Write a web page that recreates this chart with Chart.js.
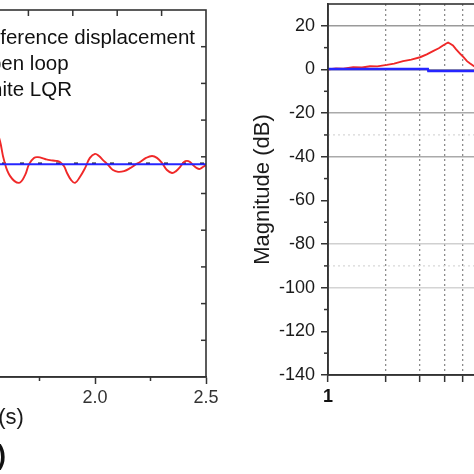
<!DOCTYPE html>
<html>
<head>
<meta charset="utf-8">
<script src="https://cdn.jsdelivr.net/npm/chart.js@4.4.0/dist/chart.umd.min.js"></script>
<style>
  html, body { margin: 0; padding: 0; background: #fff; }
  body { width: 474px; height: 474px; overflow: hidden; position: relative; }
  #timeBox { position: absolute; left: -320px; top: 0; width: 560px; height: 474px; }
  #bodeBox { position: absolute; left: 240px; top: 0; width: 320px; height: 474px; }
  #panel { position: absolute; left: -100px; top: 442px; width: 106px; text-align: right;
           font: bold 27px 'Liberation Sans', Arial, sans-serif; line-height: 27px; color: #111; }
</style>
</head>
<body>
<div id="timeBox"><canvas id="timeChart"></canvas></div>
<div id="bodeBox"><canvas id="bodeChart"></canvas></div>
<div id="panel">(a)</div>
<script>
// left panel: displacement vs time
var timeAxis = [1.545, 1.572, 1.590, 1.617, 1.658, 1.685, 1.703, 1.725, 1.743, 1.775,
                1.797, 1.824, 1.842, 1.860, 1.874, 1.892, 1.910, 1.932, 1.955, 1.977,
                2.000, 2.018, 2.036, 2.059, 2.081, 2.104, 2.131, 2.158, 2.180, 2.203,
                2.230, 2.257, 2.279, 2.302, 2.324, 2.347, 2.365, 2.383, 2.401, 2.414,
                2.428, 2.441, 2.459, 2.473, 2.486, 2.500];
var openLoop = [1.95, 1.43, 0.91, 0.48, 0.29, 0.50, 0.80, 0.97, 0.99, 0.94,
                0.91, 0.89, 0.86, 0.75, 0.56, 0.37, 0.29, 0.45, 0.69, 0.97,
                1.08, 1.02, 0.91, 0.78, 0.64, 0.59, 0.61, 0.69, 0.78, 0.86,
                0.97, 1.02, 0.97, 0.83, 0.64, 0.56, 0.61, 0.72, 0.86, 0.89,
                0.86, 0.78, 0.69, 0.67, 0.72, 0.78];
var refTime = [1.5, 2.5];
var refDisp = [0.81, 0.81];
var lqrDisp = [0.8, 0.8];
var timeMinor = [0.75, 1.25, 1.75, 2.25];
var timeTop = [0.7, 0.9, 1.1, 1.3, 1.5, 1.7, 1.9, 2.1, 2.3];
var dispTicks = [-4, -3, -2, -1, 0, 1, 2, 3, 4];

// right panel: bode magnitude
var freq = [1, 1.1, 1.2, 1.35, 1.5, 1.65, 1.8, 2.02, 2.2, 2.45,
            2.7, 3.0, 3.25, 3.5, 3.75, 3.94, 4.1, 4.19, 4.3, 4.44,
            4.6, 4.83, 5.05, 5.25, 5.45, 5.64, 6.0, 7.0, 8.0, 10];
var openDb = [0, 0.5, 0.4, 1.0, 0.9, 1.5, 1.4, 2.1, 2.7, 3.8,
              4.5, 5.6, 6.9, 8.4, 9.7, 11.0, 11.9, 12.3, 11.8, 11.0,
              9.3, 7.3, 5.5, 3.8, 2.7, 1.8, 0.2, -3.0, -6.0, -10.0];
var lqrFreq = [1, 3.29, 3.31, 10];
var lqrDb = [0.2, 0.2, -0.7, -0.7];
var freqTicks = [1, 2, 3, 4, 5, 6, 7, 8, 9, 10];
var dbTicks = [-140, -120, -100, -80, -60, -40, -20, 0, 20];
var dbMinor = [-130, -110, -90, -70, -50, -30, -10, 10];
var dbDotted = [-30, -90];

var FONT = "'Liberation Sans', Arial, sans-serif";
Chart.defaults.font.family = FONT;
Chart.defaults.color = '#222';

function pairs(xs, ys) {
  return xs.map(function(x, i) { return {x: x, y: ys[i]}; });
}

// keep the layout padding exact (no extra room for edge labels)
function noPadX(h) {
  return function(s) { s.height = h; s.paddingLeft = 0; s.paddingRight = 0; };
}
function noPadY(w) {
  return function(s) { s.width = w; s.paddingTop = 0; s.paddingBottom = 0; };
}

// extra tick marks, dotted lines and the box around the plot
var framePlugin = {
  id: 'frame',
  beforeDatasetsDraw: function(chart, args, opts) { drawMarks(chart, opts, true); },
  afterDraw: function(chart, args, opts) {
    drawMarks(chart, opts, false);
    var a = chart.chartArea, ctx = chart.ctx;
    ctx.save();
    ctx.strokeStyle = opts.color;
    ctx.lineWidth = opts.width;
    ctx.strokeRect(a.left, a.top, a.right - a.left, a.bottom - a.top);
    ctx.restore();
  }
};

function drawMarks(chart, opts, under) {
  var ctx = chart.ctx, a = chart.chartArea;
  ctx.save();
  (opts.marks || []).forEach(function(m) {
    if (!!m.under !== under) return;
    var sc = chart.scales[m.scale];
    ctx.strokeStyle = m.color;
    ctx.lineWidth = m.width;
    ctx.setLineDash(m.dash || []);
    m.values.forEach(function(v) {
      var p = sc.getPixelForValue(v);
      ctx.beginPath();
      if (m.side === 'top') { ctx.moveTo(p, a.top); ctx.lineTo(p, a.top + m.len); }
      else if (m.side === 'bottom') { ctx.moveTo(p, a.bottom); ctx.lineTo(p, a.bottom + m.len); }
      else if (m.side === 'right') { ctx.moveTo(a.right, p); ctx.lineTo(a.right - m.len, p); }
      else if (m.side === 'left') { ctx.moveTo(a.left, p); ctx.lineTo(a.left - m.len, p); }
      else { ctx.moveTo(a.left, p); ctx.lineTo(a.right, p); }
      ctx.stroke();
    });
  });
  ctx.restore();
}

// legend written inside the plot area
var insideLegend = {
  id: 'insideLegend',
  afterDraw: function(chart, args, opts) {
    var ctx = chart.ctx;
    ctx.save();
    ctx.font = opts.font;
    ctx.fillStyle = opts.color;
    ctx.textBaseline = 'alphabetic';
    chart.data.datasets.forEach(function(ds, i) {
      var y = opts.y + i * opts.gap;
      ctx.strokeStyle = ds.borderColor;
      ctx.lineWidth = ds.borderWidth;
      ctx.setLineDash(ds.borderDash || []);
      ctx.beginPath();
      ctx.moveTo(opts.x - 60, y - 7);
      ctx.lineTo(opts.x - 12, y - 7);
      ctx.stroke();
      ctx.setLineDash([]);
      ctx.fillText(ds.label, opts.x, y);
    });
    ctx.restore();
  }
};

new Chart(document.getElementById('timeChart'), {
  type: 'line',
  data: {
    datasets: [
      { label: 'Reference displacement', data: pairs(refTime, refDisp), borderColor: '#111',
        borderWidth: 2.3, borderDash: [4, 14], pointRadius: 0, order: 3 },
      { label: 'Open loop', data: pairs(timeAxis, openLoop), borderColor: '#f02828',
        borderWidth: 1.9, pointRadius: 0, tension: 0.4, order: 2 },
      { label: 'Finite LQR', data: pairs(refTime, lqrDisp), borderColor: '#2626ff',
        borderWidth: 2, pointRadius: 0, order: 1 }
    ]
  },
  options: {
    responsive: true,
    maintainAspectRatio: false,
    animation: false,
    layout: { padding: { left: 0, right: 34, top: 10, bottom: 0 } },
    plugins: {
      legend: { display: false },
      tooltip: { enabled: false },
      insideLegend: { x: 294, y: 44, gap: 26, font: '20.5px ' + FONT, color: '#111' },
      frame: {
        color: '#333', width: 1.6,
        marks: [
          { scale: 'x', values: timeMinor, side: 'bottom', len: 4, color: '#333', width: 1.5 },
          { scale: 'x', values: timeTop, side: 'top', len: 6, color: '#333', width: 1.5 },
          { scale: 'y', values: dispTicks, side: 'right', len: 5, color: '#333', width: 1.5 }
        ]
      }
    },
    scales: {
      x: {
        type: 'linear', min: 0.5, max: 2.5,
        afterFit: noPadX(97),
        ticks: { stepSize: 0.5, padding: 3, color: '#333', font: { size: 18 },
                 maxRotation: 0, callback: function(v) { return v.toFixed(1); } },
        grid: { drawOnChartArea: false, tickLength: 7, tickColor: '#333', tickWidth: 1.5 },
        border: { color: '#333', width: 1.6 },
        title: { display: true, text: 'Time (s)', color: '#1a1a1a', font: { size: 22 },
                 padding: { top: 0, bottom: 43 } }
      },
      y: {
        min: -5, max: 5,
        afterFit: noPadY(82),
        ticks: { stepSize: 1, font: { size: 18 } },
        grid: { drawOnChartArea: false, tickLength: 7, tickColor: '#333' },
        border: { color: '#333', width: 1.6 }
      }
    }
  },
  plugins: [framePlugin, insideLegend]
});

var gridShade = { '20': '#9a9a9a', '0': '#9a9a9a', '-20': '#aaaaaa', '-40': '#aaaaaa',
                  '-80': '#d0d0d0', '-100': '#d4d4d4' };

new Chart(document.getElementById('bodeChart'), {
  type: 'line',
  data: {
    datasets: [
      { label: 'Open loop', data: pairs(freq, openDb), borderColor: '#f02828',
        borderWidth: 1.9, pointRadius: 0, order: 2 },
      { label: 'Finite LQR', data: pairs(lqrFreq, lqrDb), borderColor: '#2626ff',
        borderWidth: 2.5, pointRadius: 0, order: 1 }
    ]
  },
  options: {
    responsive: true,
    maintainAspectRatio: false,
    animation: false,
    layout: { padding: { left: 0, right: 39, top: 4, bottom: 0 } },
    plugins: {
      legend: { display: false },
      tooltip: { enabled: false },
      frame: {
        color: '#333', width: 1.6,
        marks: [
          { scale: 'y', values: dbDotted, side: 'across', len: 0, color: '#d8d8d8', width: 1.2,
            dash: [2, 3], under: true },
          { scale: 'y', values: dbMinor, side: 'left', len: 4, color: '#333', width: 1.5 }
        ]
      }
    },
    scales: {
      x: {
        type: 'logarithmic', min: 1, max: 10,
        afterFit: noPadX(99),
        afterBuildTicks: function(s) { s.ticks = freqTicks.map(function(v) { return { value: v }; }); },
        ticks: { autoSkip: false, maxRotation: 0, padding: 4, color: '#111',
                 font: { size: 18, weight: 'bold' },
                 callback: function(v) { return Math.log10(v) % 1 === 0 ? String(v) : ''; } },
        grid: { color: '#8c8c8c', lineWidth: 1.3, tickLength: 7, tickColor: '#333', tickWidth: 1.5 },
        border: { color: '#333', width: 1.6, dash: [2, 3] }
      },
      y: {
        min: -140, max: 30,
        afterFit: noPadY(88),
        afterBuildTicks: function(s) { s.ticks = dbTicks.map(function(v) { return { value: v }; }); },
        ticks: { padding: 6, color: '#1a1a1a', font: { size: 18 } },
        grid: {
          color: function(c) { return (c.tick && gridShade[String(c.tick.value)]) || 'rgba(0,0,0,0)'; },
          lineWidth: 1.5, tickLength: 7, tickColor: '#333', tickWidth: 1.5
        },
        border: { color: '#333', width: 1.6 },
        title: { display: true, text: 'Magnitude (dB)', color: '#1a1a1a', font: { size: 22 },
                 padding: { top: 10, bottom: 0 } }
      }
    }
  },
  plugins: [framePlugin]
});
</script>
</body>
</html>
